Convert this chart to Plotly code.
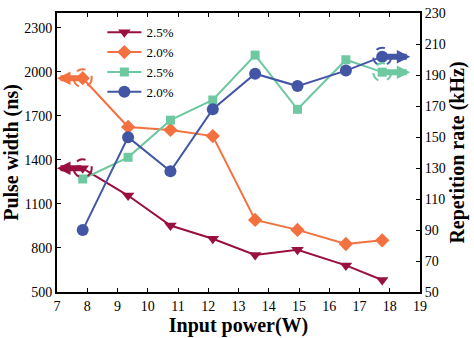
import plotly.graph_objects as go

power = [7.85, 9.35, 10.75, 12.15, 13.55, 14.95, 16.55, 17.75]
pw_25 = [1342, 1157, 953, 863, 752, 788, 681, 582]
pw_20 = [1956, 1624, 1604, 1562, 991, 923, 827, 852]
rr_25 = [123, 137, 161, 174, 203, 168, 200, 192]
rr_20 = [90, 150, 128, 168, 191, 183, 193, 202]
labels = ["2.5%", "2.0%", "2.5%", "2.0%"]
left_ticks = [500, 800, 1100, 1400, 1700, 2000, 2300]
right_ticks = [50, 70, 90, 110, 130, 150, 170, 190, 210, 230]

RED = "#990F40"
ORA = "#F3703F"
GRN = "#6EC9A0"
BLU = "#4356A5"
FONT = "Liberation Serif"

fig = go.Figure()
fig.add_trace(go.Scatter(x=power, y=pw_25, name=labels[0], mode="lines+markers",
                         line=dict(color=RED, width=2),
                         marker=dict(symbol="triangle-down", size=11, color=RED)))
fig.add_trace(go.Scatter(x=power, y=pw_20, name=labels[1], mode="lines+markers",
                         line=dict(color=ORA, width=2),
                         marker=dict(symbol="diamond", size=11, color=ORA)))
fig.add_trace(go.Scatter(x=power, y=rr_25, name=labels[2], mode="lines+markers", yaxis="y2",
                         line=dict(color=GRN, width=2),
                         marker=dict(symbol="square", size=9, color=GRN)))
fig.add_trace(go.Scatter(x=power, y=rr_20, name=labels[3], mode="lines+markers", yaxis="y2",
                         line=dict(color=BLU, width=2),
                         marker=dict(symbol="circle", size=12, color=BLU)))

shapes = []
annotations = []
# left arrows (pulse width -> left axis)
for ys, col in [(pw_25, RED), (pw_20, ORA)]:
    annotations.append(dict(x=7.0, y=ys[0], ax=power[0], ay=ys[0], xref="x", yref="y",
                            axref="x", ayref="y", showarrow=True, arrowhead=2,
                            arrowsize=0.45, arrowwidth=6, arrowcolor=col, text=""))
    shapes.append(dict(type="circle", xref="x", yref="y", xsizemode="pixel", ysizemode="pixel",
                       xanchor=power[0], yanchor=ys[0], x0=-9, x1=9, y0=-9, y1=9,
                       line=dict(color=col, width=2, dash="dash")))
# right arrows (rep rate -> right axis)
for ys, col in [(rr_20, BLU), (rr_25, GRN)]:
    annotations.append(dict(x=18.68, y=ys[-1], ax=power[-1], ay=ys[-1], xref="x", yref="y2",
                            axref="x", ayref="y2", showarrow=True, arrowhead=2,
                            arrowsize=0.45, arrowwidth=6, arrowcolor=col, text=""))
    shapes.append(dict(type="circle", xref="x", yref="y2", xsizemode="pixel", ysizemode="pixel",
                       xanchor=power[-1], yanchor=ys[-1], x0=-9, x1=9, y0=-9, y1=9,
                       line=dict(color=col, width=2, dash="dash")))

axis_common = dict(showgrid=False, zeroline=False, showline=True, linecolor="black", linewidth=2,
                   ticks="inside", ticklen=4, tickcolor="black",
                   tickfont=dict(family=FONT, size=14, color="black"))

fig.update_layout(
    width=474, height=338,
    margin=dict(l=56, r=54, t=6, b=46),
    plot_bgcolor="white", paper_bgcolor="white",
    showlegend=True,
    legend=dict(x=0.125, y=0.985, xanchor="left", yanchor="top", bgcolor="rgba(0,0,0,0)",
                font=dict(family=FONT, size=13, color="black"), tracegroupgap=0,
                itemwidth=34),
    xaxis=dict(range=[7, 19], dtick=1, mirror="ticks",
               title=dict(text="<b>Input power(W)</b>", font=dict(family=FONT, size=20, color="black"),
                          standoff=2),
               **axis_common),
    yaxis=dict(range=[500, 2400], tickvals=left_ticks,
               title=dict(text="<b>Pulse width (ns)</b>", font=dict(family=FONT, size=20, color="black"),
                          standoff=4),
               **axis_common),
    yaxis2=dict(range=[50, 230.2], tickvals=right_ticks, overlaying="y", side="right",
                title=dict(text="<b>Repetition rate (kHz)</b>", font=dict(family=FONT, size=20, color="black"),
                           standoff=4),
                **axis_common),
    shapes=shapes,
    annotations=annotations,
)

fig.write_html("out.html")
